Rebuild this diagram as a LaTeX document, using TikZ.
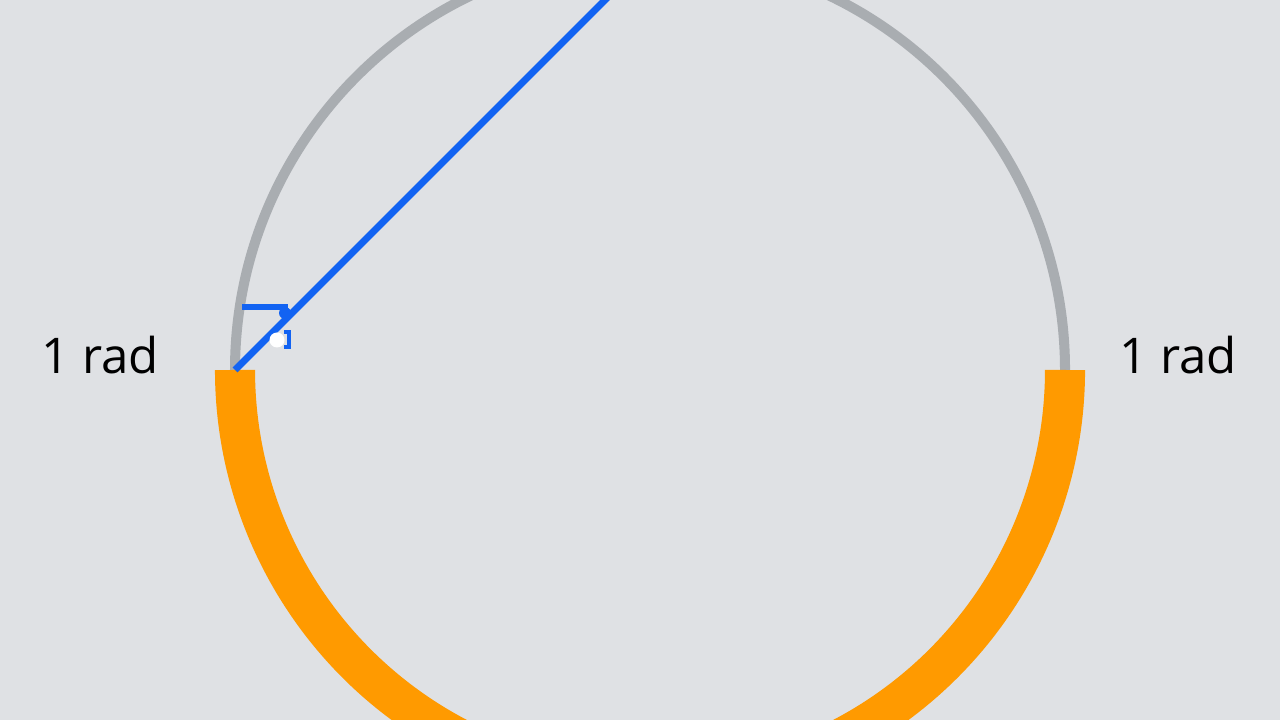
\documentclass[tikz,border=0pt]{standalone}
\usepackage{fontspec}
\setmainfont{Open Sans}
\definecolor{bgcol}{HTML}{DFE1E4}
\definecolor{ringcol}{HTML}{A9ADB1}
\definecolor{arccol}{HTML}{FF9A00}
\definecolor{chordcol}{HTML}{1263F2}
\begin{document}
\begin{tikzpicture}

      \fill[bgcol] (0,0) rectangle (12.8,-7.2);
      \useasboundingbox (0,0) rectangle (12.8,-7.2);

      \coordinate (C) at (6.5,-3.70);
      \coordinate (L) at (2.35,-3.70);
      \coordinate (R) at (10.65,-3.70);
      \coordinate (T) at (6.5,0.45);

      \begin{scope}
        \clip (0,0) rectangle (12.8,-7.2);
        \draw[ringcol,line width=2.85pt] (C) circle[radius=4.15];

        \begin{scope}[every path/.style={arccol,line width=11.4pt}]
          \draw (L) arc[start angle=180,end angle=245,radius=4.15];
          \draw (R) arc[start angle=0,end angle=-65,radius=4.15];
        \end{scope}

        \draw[chordcol,line width=2pt] (L) -- (T);
      \end{scope}

      % marker near the left end
      \coordinate (m1) at (2.42,-3.07);
      \coordinate (m2) at (2.88,-3.07);
      \draw[chordcol,line width=1.6pt] (m1) -- (m2);
      \fill[chordcol] (2.85,-3.13) circle[radius=0.06];
      \draw[chordcol,line width=1.4pt] (2.84,-3.32) -- (2.89,-3.32) -- (2.89,-3.47) -- (2.84,-3.47);
      \fill[white] (2.77,-3.40) circle[radius=0.075];

      \begin{scope}[every node/.style={font=\fontsize{14}{17}\selectfont,text=black}]
        \node (radL) at (1.00,-3.55) {1 rad};
        \node (radR) at (11.78,-3.55) {1 rad};
      \end{scope}

\end{tikzpicture}
\end{document}
